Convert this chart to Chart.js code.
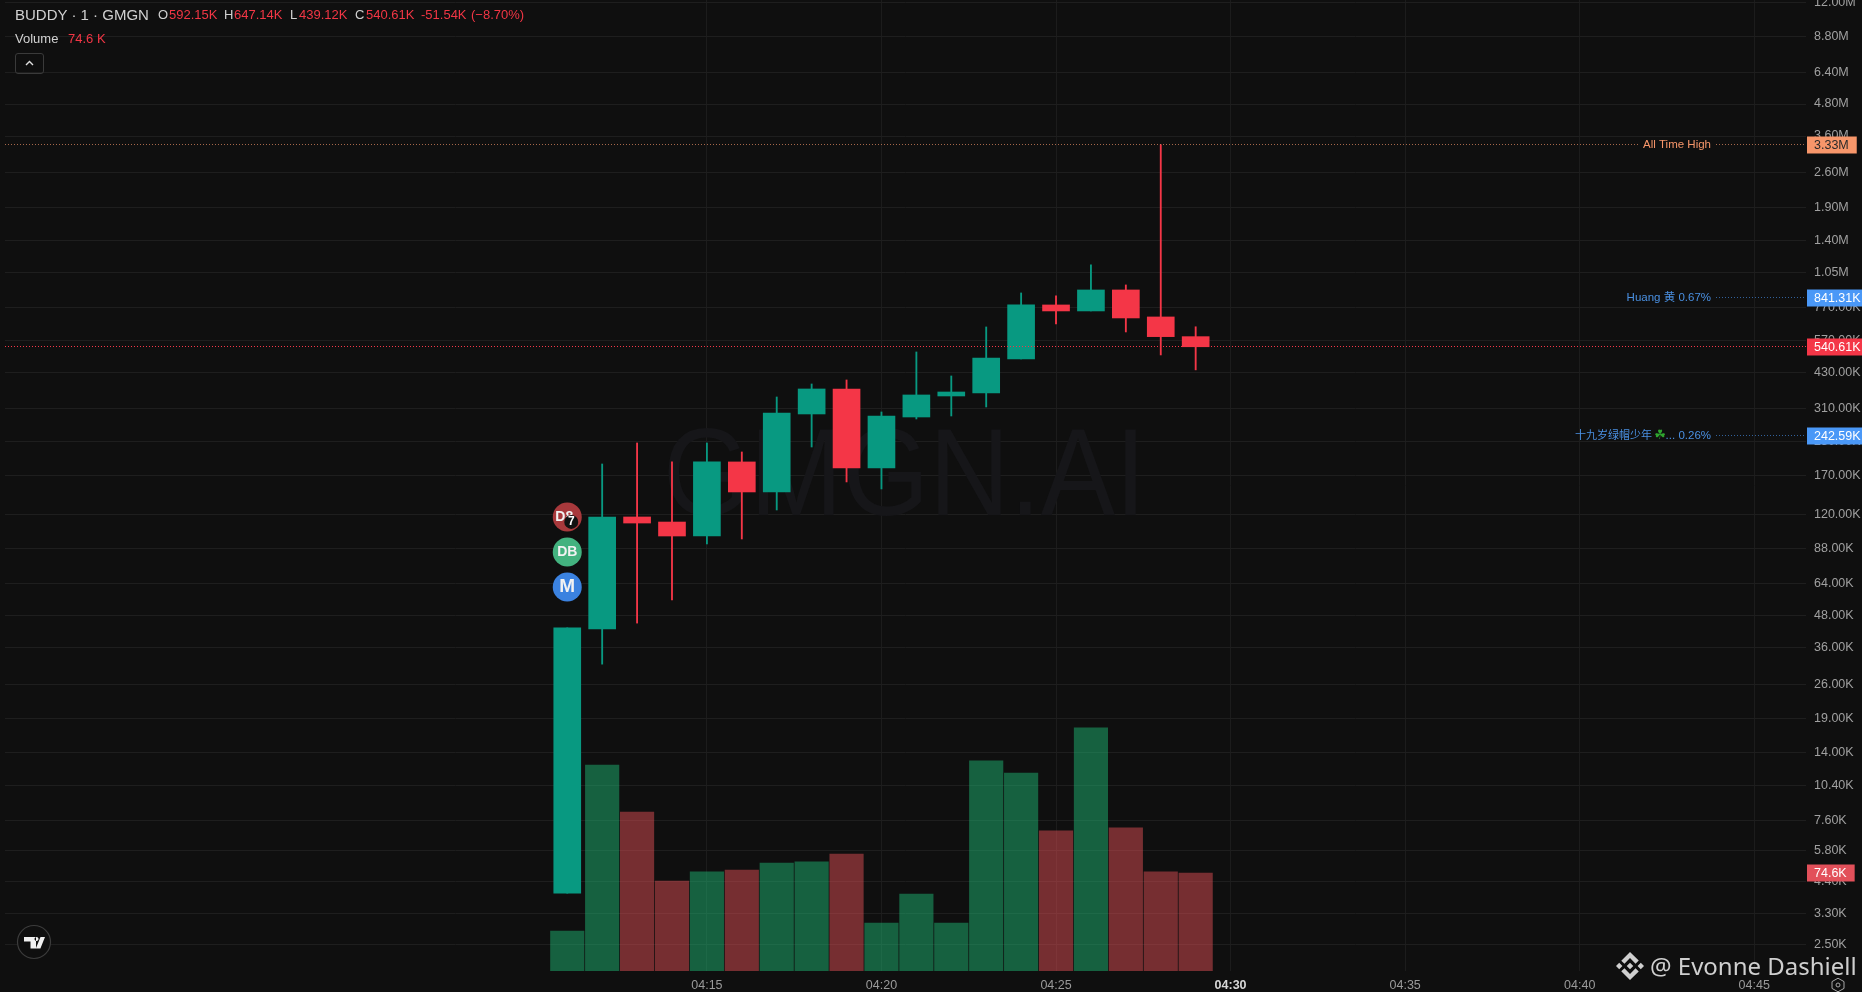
<!DOCTYPE html>
<html><head><meta charset="utf-8">
<script src="https://cdn.jsdelivr.net/npm/chart.js@4"></script>
<style>
html,body{margin:0;padding:0;background:#0f0f0f;width:1862px;height:992px;overflow:hidden;font-family:"Liberation Sans",Arial,sans-serif}
#c{position:absolute;left:0;top:0;display:block}
.t{position:absolute;white-space:pre;line-height:16px;font-size:13px;color:#d1d1d1}
.r{color:#f23645}
#btn{position:absolute;left:15px;top:53px;width:27px;height:19px;border:1px solid #3a3a3a;border-radius:3px}
svg{position:absolute}
</style></head><body>
<canvas id="c" width="1862" height="992"></canvas>
<div class="t" style="left:15px;top:7px;font-size:15px">BUDDY · 1 · GMGN</div>
<div class="t" style="left:158px;top:7px">O</div><div class="t r" style="left:169px;top:7px">592.15K</div>
<div class="t" style="left:224px;top:7px">H</div><div class="t r" style="left:234px;top:7px">647.14K</div>
<div class="t" style="left:290px;top:7px">L</div><div class="t r" style="left:299px;top:7px">439.12K</div>
<div class="t" style="left:355px;top:7px">C</div><div class="t r" style="left:366px;top:7px">540.61K</div>
<div class="t r" style="left:421px;top:7px">-51.54K</div><div class="t r" style="left:471px;top:7px">(−8.70%)</div>
<div class="t" style="left:15px;top:31px">Volume</div><div class="t r" style="left:68px;top:31px">74.6 K</div>
<div id="btn"><svg style="left:8px;top:5px" width="11" height="8" viewBox="0 0 11 8"><path d="M2 6 L5.5 2.5 L9 6" fill="none" stroke="#e0e0e0" stroke-width="1.4"/></svg></div>
<svg style="left:16px;top:924px" width="36" height="36" viewBox="0 0 36 36"><circle cx="18" cy="18" r="16.5" fill="#0f0f0f" stroke="#3c3c3c" stroke-width="1.2"/><path d="M8 13h12v11.500h-5.500v-7h-6.500zM20.500 13a2 2 0 1 0 .01 0zM24.500 13h4.500l-4.600 11.500h-4.600z" fill="#f0f0f0"/></svg>
<svg style="left:1616px;top:952px" width="28" height="28" viewBox="0 0 128 128"><path fill="#cfcfcf" d="M38.700 53.200L64 27.900l25.300 25.300 14.700-14.700L64 0 24 40zM0 64l14.700-14.700L29.400 64 14.700 78.700zM38.700 74.800L64 100.100l25.300-25.300 14.700 14.700L64 128 24 88zM98.600 64l14.700-14.700L128 64l-14.700 14.700zM79 64L64 49 49 64l15 15z"/></svg>
<div class="t" style="left:1650px;top:949px;font-family:'Noto Sans';font-size:24px;line-height:34px;color:#cfcfcf">@ Evonne Dashiell</div>
<svg style="left:1830px;top:977px" width="16" height="16" viewBox="0 0 16 16"><path d="M8 1.200l6 3.400v6.800l-6 3.400-6-3.400V4.600z" fill="none" stroke="#a8a8a8" stroke-width="1"/><circle cx="8" cy="8" r="2" fill="none" stroke="#a8a8a8" stroke-width="1"/></svg>
<script>
const minutes=[11,12,13,14,15,16,17,18,19,20,21,22,23,24,25,26,27,28,29];
const opens=[3965,42700,116900,111700,98500,191800,146400,295300,369800,181600,287400,347200,356700,484400,787500,746100,901200,706900,592150];
const highs=[43100,188300,227500,191800,227500,209800,344100,386800,401000,300700,515900,415700,646100,877300,853900,1128600,942800,3330000,647140];
const lows=[3965,31100,45000,55400,91700,95900,124500,219400,160200,150400,282300,290000,314500,484400,663700,746100,617600,502200,439120];
const closes=[43100,116900,110700,98500,191800,146400,298000,369800,181600,290000,350400,359900,488800,787500,746100,901200,700500,592150,540610];
const volumes=[30400,156800,121000,68500,75400,76900,82200,83000,89000,36500,58600,36500,159900,150700,106600,185000,108900,75400,74600];
const priceTicks=[12000000,8800000,6400000,4800000,3600000,2600000,1900000,1400000,1050000,770000,570000,430000,310000,230000,170000,120000,88000,64000,48000,36000,26000,19000,14000,10400,7600,5800,4400,3300,2500];
const timeTicks=[15,20,25,30,35,40,45];

const UP='#089981',DOWN='#f43647';
const isUp=minutes.map((m,i)=>closes[i]>=opens[i]);
const candleColors=isUp.map(u=>u?UP:DOWN);
const volumeColors=isUp.map(u=>u?'rgba(29,179,113,0.5)':'rgba(221,77,83,0.5)');
const fmt=v=>v>=1e6?(v/1e6).toFixed(2)+'M':(v/1e3).toFixed(2)+'K';
const FONT='"Liberation Sans",Arial,"Noto Sans CJK SC",sans-serif';

const watermark={id:'watermark',beforeDatasetsDraw(ch){
  const c=ch.ctx;c.save();c.font='125px "Liberation Sans",Arial,sans-serif';c.fillStyle='#161619';
  c.textBaseline='alphabetic';c.textAlign='left';
  const w=c.measureText('GMGN.AI').width;
  c.translate(663,515);c.scale(483/w,1);c.fillText('GMGN.AI',0,0);c.restore();
}};

const overlay={id:'overlay',afterDatasetsDraw(ch){
  const c=ch.ctx,y=ch.scales.y,y2=ch.scales.y2,x=ch.scales.x,L=ch.chartArea.left,R=ch.chartArea.right;
  const dotted=(x0,x1,yy,col)=>{c.save();c.strokeStyle=col;c.lineWidth=1;c.setLineDash([1,2]);c.beginPath();c.moveTo(x0,Math.round(yy)-.5);c.lineTo(x1,Math.round(yy)-.5);c.stroke();c.restore();};
  const ath=y.getPixelForValue(3330000),cur=y.getPixelForValue(540610),hu=y.getPixelForValue(841310),sh=y.getPixelForValue(242590);
  dotted(L,1639,ath,'rgba(247,150,106,0.65)');dotted(1716,R,ath,'rgba(247,150,106,0.65)');
  dotted(L,R,cur,'#f43647');
  dotted(1716,R,hu,'rgba(74,152,247,0.6)');dotted(1716,R,sh,'rgba(74,152,247,0.6)');
  c.save();c.textBaseline='middle';c.textAlign='right';c.font='11.500px '+FONT;
  c.fillStyle='#f7966a';c.fillText('All Time High',1711,ath);
  c.fillStyle='#4a90e2';c.fillText('Huang 黄 0.67%',1711,hu);
  c.fillText('... 0.26%',1711,sh);
  c.fillStyle='#2fa52f';c.font='13px "DejaVu Sans"';c.fillText('☘',1666,sh);
  c.fillStyle='#4a90e2';c.font='11px '+FONT;c.fillText('十九岁绿帽少年',1652,sh);
  c.restore();
  const bx=x.getPixelForValue(minutes[0]),top=y.getPixelForValue(closes[0]);
  [['M','#3b82e0',-41],['DB','#43b27f',-76],['D','#a8393c',-111]].forEach(([t,col,dy])=>{
    c.save();c.beginPath();c.arc(bx,top+dy,14.500,0,7);c.fillStyle=col;c.fill();
    c.fillStyle='#f2f2f2';c.font='bold '+(t==='M'?19:14)+'px '+FONT;c.textAlign='center';c.textBaseline='middle';
    c.fillText(t==='D'?'D8':t,bx+(t==='D'?-3:0),top+dy);
    if(t==='D'){c.beginPath();c.arc(bx+4,top+dy+5,7,0,7);c.fillStyle='#111';c.fill();c.fillStyle='#fff';c.font='bold 12px '+FONT;c.fillText('7',bx+4,top+dy+5);}
    c.restore();
  });
},afterDraw(ch){
  const c=ch.ctx,y=ch.scales.y,y2=ch.scales.y2;
  const tag=(txt,yy,bg,fg)=>{c.save();c.font='12.500px '+FONT;const w=c.measureText(txt).width;
    c.fillStyle=bg;c.fillRect(1807,Math.round(yy)-8.500,Math.min(w+15,55),17);
    c.fillStyle=fg;c.textBaseline='middle';c.textAlign='left';c.fillText(txt,1814,Math.round(yy)+.5);c.restore();};
  tag('3.33M',y.getPixelForValue(3330000),'#f7966a','#2a2a2a');
  tag('841.31K',y.getPixelForValue(841310),'#4a98f7','#fff');
  tag('540.61K',y.getPixelForValue(540610),'#f43647','#fff');
  tag('242.59K',y.getPixelForValue(242590),'#4a98f7','#fff');
  tag('74.6K',y2.getPixelForValue(74600),'#e2505a','#fff');
}};

new Chart(document.getElementById('c'),{
  type:'bar',
  plugins:[watermark,overlay],
  data:{datasets:[
    {label:'Volume',yAxisID:'y2',order:3,grouped:false,barThickness:33.5,
     data:minutes.map((m,i)=>({x:m,y:volumes[i]})),backgroundColor:volumeColors},
    {label:'Wick',yAxisID:'y',order:2,grouped:false,barThickness:1.200,
     data:minutes.map((m,i)=>({x:m,y:[lows[i],highs[i]]})),backgroundColor:candleColors},
    {label:'Body',yAxisID:'y',order:1,grouped:false,barThickness:27,
     data:minutes.map((m,i)=>({x:m,y:[opens[i],closes[i]]})),backgroundColor:candleColors}
  ]},
  options:{
    responsive:false,animation:false,
    layout:{padding:{left:5,right:0,top:0,bottom:0}},
    plugins:{legend:{display:false},tooltip:{enabled:false}},
    scales:{
      x:{type:'linear',min:-5.105,max:46.482,offset:false,bounds:'data',
        grid:{color:'#1c1c1c',drawTicks:false,offset:false},border:{display:false},
        afterBuildTicks(s){s.ticks=timeTicks.map(v=>({value:v}));},
        afterFit(s){s.height=21;s.paddingLeft=0;s.paddingRight=0;},
        ticks:{autoSkip:false,maxRotation:0,padding:7,
          callback:v=>'04:'+String(v).padStart(2,'0'),
          color:c=>c.tick&&c.tick.value===30?'#d8d8d8':'#9a9a9a',
          font:c=>({family:FONT,size:12.5,weight:c.tick&&c.tick.value===30?'bold':'normal'})}},
      y:{type:'logarithmic',position:'right',min:1967,max:12240000,bounds:'data',
        grid:{color:'#1e1e1e',drawTicks:false},border:{display:false},
        afterBuildTicks(s){s.ticks=priceTicks.map(v=>({value:v}));},
        afterFit(s){s.width=56;s.paddingTop=0;s.paddingBottom=0;},
        ticks:{autoSkip:false,padding:8,callback:v=>fmt(v),color:'#a0a0a0',font:{family:FONT,size:12.5}}},
      y2:{type:'linear',display:false,min:0,max:739000}
    }
  }
});
</script></body></html>
